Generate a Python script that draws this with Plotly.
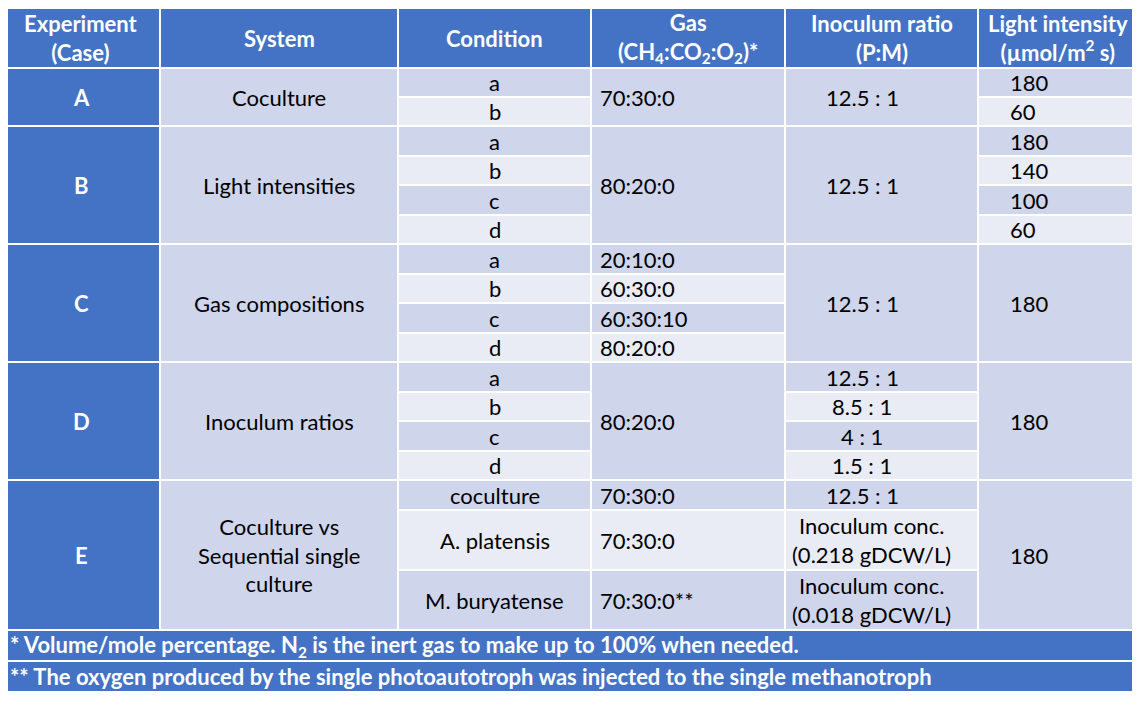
import plotly.graph_objects as go

# ---- data ----
headers = ["Experiment<br>(Case)", "System", "Condition",
           "Gas<br>(CH<sub>4</sub>:CO<sub>2</sub>:O<sub>2</sub>)*",
           "Inoculum ratio<br>(P:M)", "Light intensity<br>(µmol/m<sup>2</sup> s)"]
cases = ["A", "B", "C", "D", "E"]
systems = ["Coculture", "Light intensities", "Gas compositions", "Inoculum ratios",
           "Coculture vs<br>Sequential single<br>culture"]
conditions = [["a", "b"], ["a", "b", "c", "d"], ["a", "b", "c", "d"], ["a", "b", "c", "d"],
              ["coculture", "A. platensis", "M. buryatense"]]
gas = [["70:30:0"], ["80:20:0"], ["20:10:0", "60:30:0", "60:30:10", "80:20:0"], ["80:20:0"],
       ["70:30:0", "70:30:0", "70:30:0**"]]
ratio = [["12.5 : 1"], ["12.5 : 1"], ["12.5 : 1"], ["12.5 : 1", "8.5 : 1", "4 : 1", "1.5 : 1"],
         ["12.5 : 1", "Inoculum conc.<br>(0.218 gDCW/L)", "Inoculum conc.<br>(0.018 gDCW/L)"]]
light = [["180", "60"], ["180", "140", "100", "60"], ["180"], ["180"], ["180"]]
footnotes = ["* Volume/mole percentage. N<sub>2</sub> is the inert gas to make up to 100% when needed.",
             "** The oxygen produced by the single photoautotroph was injected to the single methanotroph"]

# ---- layout geometry ----
xb = [2, 160, 398, 591, 785, 978, 1137]
yb = [8, 68, 97, 126, 156, 185, 215, 244, 274, 303, 333, 362, 392, 421, 451, 480, 510, 570, 630, 661, 692]
BLUE, DARK, LIGHT = "#4472C4", "#CFD5EA", "#E9EBF5"
FONT = "Lato"
FS = 22

shapes, annots = [], []

def cell(c, r0, r1, text, fill, align="center", xpos=None, color="black", bold=False):
    x0, x1, y0, y1 = xb[c], xb[c + 1], yb[r0], yb[r1]
    shapes.append(dict(type="rect", x0=x0, x1=x1, y0=y0, y1=y1, fillcolor=fill,
                       line=dict(color="white", width=2), layer="below"))
    if xpos is None:
        xpos = (x0 + x1) / 2 if align == "center" else x0 + 8
    t = f"<b>{text}</b>" if bold else text
    annots.append(dict(x=xpos, y=(y0 + y1) / 2, text=t, showarrow=False,
                       xanchor="center" if align == "center" else "left",
                       font=dict(family=FONT, size=FS, color=color)))

for c, h in enumerate(headers):
    cell(c, 0, 1, h, BLUE, color="white", bold=True)

r = 1
for g in range(len(cases)):
    n = len(conditions[g])
    cell(0, r, r + n, cases[g], BLUE, color="white", bold=True)
    cell(1, r, r + n, systems[g], DARK)
    for i, cond in enumerate(conditions[g]):
        cell(2, r + i, r + i + 1, cond, DARK if i % 2 == 0 else LIGHT)
    for col, vals, al, xp in [(3, gas[g], "left", 598), (4, ratio[g], None, None),
                              (5, light[g], "left", 1008)]:
        if len(vals) == 1:
            spans = [(0, n)]
        else:
            spans = [(i, i + 1) for i in range(n)]
        for i, (a, b) in enumerate(spans):
            fill = DARK if (len(vals) == 1 or i % 2 == 0) else LIGHT
            v = vals[i]
            if col == 4:
                if v.startswith("Inoculum"):
                    cell(col, r + a, r + b, v, fill, "left", 790)
                else:
                    cell(col, r + a, r + b, v, fill, "center", 862)
            else:
                cell(col, r + a, r + b, v, fill, al, xp)
    r += n

for k, fn in enumerate(footnotes):
    y0, y1 = yb[r + k], yb[r + k + 1]
    shapes.append(dict(type="rect", x0=xb[0], x1=xb[-1], y0=y0, y1=y1, fillcolor=BLUE,
                       line=dict(color="white", width=2), layer="below"))
    annots.append(dict(x=8, y=(y0 + y1) / 2, text=f"<b>{fn}</b>", showarrow=False,
                       xanchor="left", font=dict(family=FONT, size=FS, color="white")))

fig = go.Figure()
fig.update_layout(width=1124, height=692, margin=dict(l=0, r=0, t=0, b=0),
                  paper_bgcolor="white", plot_bgcolor="white",
                  xaxis=dict(range=[8, 1132], visible=False, fixedrange=True),
                  yaxis=dict(range=[700, 8], visible=False, fixedrange=True),
                  shapes=shapes, annotations=annots, showlegend=False)
fig.write_html("out.html")
